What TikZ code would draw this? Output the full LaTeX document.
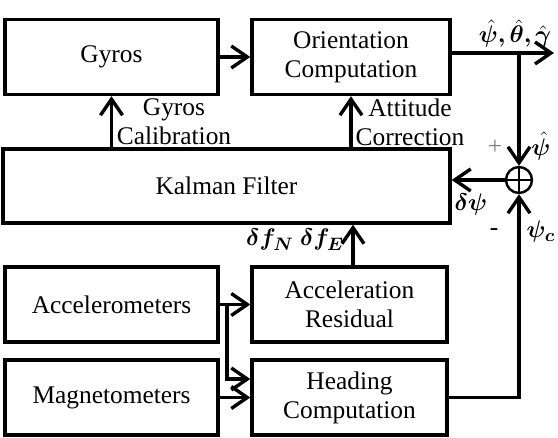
\documentclass[tikz,border=0pt]{standalone}
\usepackage{fontspec}
\setmainfont{Liberation Serif}
\usepackage{bm}
\usetikzlibrary{arrows.meta}
\begin{document}
\begin{tikzpicture}[x=0.5pt,y=-0.5pt,
  font=\fontsize{12.7}{14.5}\selectfont,
  box/.style={draw, line width=1.7pt, rectangle, inner sep=0pt, align=center},
  wide/.style={minimum width=106.5pt},
  tall/.style={minimum height=37.5pt},
  arr/.style={line width=1.7pt, -{Straight Barb[length=8pt,width=11pt,line width=1.7pt]}},
  lbl/.style={inner sep=0pt, align=center},
  mlbl/.style={inner sep=0pt}]
\useasboundingbox (0,0) rectangle (558,438);
% boxes
\node[box, wide, tall] (gyros) at (111.5,57) {Gyros};
\node[box, minimum width=99pt, tall] (orient) at (351,57) {Orientation\\Computation};
\node[box, minimum width=223.5pt, minimum height=37pt] (kalman) at (226.5,186) {Kalman Filter};
\node[box, wide, tall] (accel) at (111.5,304.5) {Accelerometers};
\node[box, minimum width=97.5pt, tall] (resid) at (349.5,304.5) {Acceleration\\Residual};
\node[box, wide, tall] (magn) at (111.5,397.5) {Magnetometers};
\node[box, minimum width=97.5pt, tall] (heading) at (349.5,397.5) {Heading\\Computation};
% summing junction
\node[draw, circle, line width=1.2pt, minimum size=13pt, inner sep=0pt] (sum) at (519,180) {};
\draw[line width=0.9pt] (sum.north) -- (sum.south) (sum.west) -- (sum.east);
% coordinates
\coordinate (outend) at (554,53);
\coordinate (tap) at (519,53);
\coordinate (br) at (227,305);
% connectors
\draw[arr] (gyros) -- (orient);
\draw[arr] (orient.east |- outend) -- (outend);
\draw[arr] (tap) -- (sum.north);
\draw[arr] (sum.west) -- (kalman.east |- sum.west);
\draw[arr] (heading.east) -| (sum.south);
\draw[arr] (gyros.south |- kalman.north) -- (gyros.south);
\draw[arr] (orient.south |- kalman.north) -- (orient.south);
\draw[arr] ([xshift=1.75pt]resid.north) -- ([xshift=1.75pt]resid.north |- kalman.south);
\draw[arr] (accel) -- (resid);
\draw[arr] (br) |- ([yshift=9.25pt]heading.west);
\draw[arr] (magn) -- (heading);
% labels
\node[lbl] (lgc) at (174,122) {Gyros\\Calibration};
\node[lbl] (lac) at (410,122) {Attitude\\Correction};
\node[mlbl, anchor=south] (lout) at (515,48) {$\bm{\hat\psi,\hat\theta,\hat\gamma}$};
\node[mlbl, text=gray] (lplus) at (495,147) {+};
\node[mlbl] (lpsi) at (541,146) {$\bm{\hat\psi}$};
\node[mlbl] (ldpsi) at (471,205) {$\bm{\delta\psi}$};
\node[mlbl] (lminus) at (494,232) {-};
\node[mlbl] (lpsic) at (541,232) {$\bm{\psi_c}$};
\node[mlbl] (lfn) at (270,240) {$\bm{\delta f_N}$};
\node[mlbl] (lfe) at (322,240) {$\bm{\delta f_E}$};
\end{tikzpicture}
\end{document}
